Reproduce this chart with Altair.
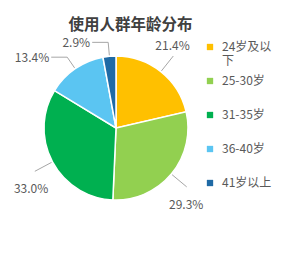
import altair as alt
import pandas as pd

categories = ["24岁及以下", "25-30岁", "31-35岁", "36-40岁", "41岁以上"]
values = [21.4, 29.3, 33.0, 13.4, 2.9]
colors = ["#FFC000", "#92D050", "#00B050", "#5BC5F2", "#1F6AA5"]

df = pd.DataFrame({
    "category": categories,
    "value": values,
    "idx": list(range(len(categories))),
    "label": [f"{v:.1f}%" for v in values],
})

CX, CY, R = 116, 98, 72
FONT = "Noto Sans CJK SC"
LABEL_COLOR = "#595959"
LINE_COLOR = "#a6a6a6"

base = alt.Chart(df)

color = alt.Color(
    "category:N",
    scale=alt.Scale(domain=categories, range=colors),
    sort=categories,
    legend=alt.Legend(
        title=None,
        orient="none",
        legendX=204,
        legendY=11,
        padding=0,
        symbolType="square",
        symbolSize=40,
        symbolStrokeWidth=0,
        labelFont=FONT,
        labelFontSize=12,
        labelColor=LABEL_COLOR,
        labelOffset=6,
        rowPadding=8,
        labelExpr="datum.label == '24岁及以下' ? ['24岁及以', '下'] : [datum.label, '']",
    ),
)

arcs = base.mark_arc(outerRadius=R, stroke="white", strokeWidth=1.5).encode(
    theta=alt.Theta("value:Q", stack=True),
    order=alt.Order("idx:O"),
    color=color,
    x=alt.value(CX),
    y=alt.value(CY),
)

calc = base.transform_joinaggregate(
    total="sum(value)"
).transform_window(
    cum="sum(value)", sort=[alt.SortField("idx")], frame=[None, 0]
).transform_calculate(
    mid="(datum.cum - datum.value/2) / datum.total * 2 * PI",
    side="datum.value < 15",
).transform_calculate(
    s="sin(datum.mid)",
    c="cos(datum.mid)",
    rl=f"datum.side ? {R+14} : {R+20}",
).transform_calculate(
    x1=f"{CX} + {R+1} * datum.s",
    y1=f"{CY} - {R+1} * datum.c",
    ex=f"{CX} + datum.rl * datum.s",
    ey=f"{CY} - datum.rl * datum.c",
).transform_calculate(
    hx="datum.ex - 16",
    tx="datum.side ? datum.ex - 18 : datum.ex + 2 * datum.s - 2",
    ty="datum.side ? datum.ey + 1 : (datum.c > 0 ? datum.ey - 10 : datum.ey + 18)",
)

def px(field):
    return alt.X(field, type="quantitative", scale=None, axis=None)

def py(field):
    return alt.Y(field, type="quantitative", scale=None, axis=None)

radial = calc.mark_rule(color=LINE_COLOR, strokeWidth=1).encode(
    x=px("x1"), y=py("y1"), x2="ex:Q", y2="ey:Q",
)

horiz = calc.transform_filter("datum.side").mark_rule(
    color=LINE_COLOR, strokeWidth=1
).encode(
    x=px("ex"), y=py("ey"), x2="hx:Q", y2="ey:Q",
)

texts_main = calc.transform_filter("!datum.side").mark_text(
    font=FONT, fontSize=12, color=LABEL_COLOR, align="center"
).encode(
    x=px("tx"), y=py("ty"), text="label:N",
)

texts_side = calc.transform_filter("datum.side").mark_text(
    font=FONT, fontSize=12, color=LABEL_COLOR, align="right"
).encode(
    x=px("tx"), y=py("ty"), text="label:N",
)

chart = alt.layer(arcs, radial, horiz, texts_main, texts_side).properties(
    width=291,
    height=229,
    padding={"left": 0, "top": 30, "right": 0, "bottom": 0},
    autosize=alt.AutoSizeParams(type="none"),
    view=alt.ViewBackground(stroke="transparent", strokeWidth=0),
    title=alt.Title(
        "使用人群年龄分布",
        font=FONT,
        fontSize=15.5,
        fontWeight="bold",
        color="#404040",
        anchor="middle",
        dx=-15,
        dy=7,
        offset=4,
    ),
).configure_view(stroke="transparent", strokeWidth=0).configure(background="white")

chart.save("out.html", embed_options={"renderer": "svg", "actions": False})
